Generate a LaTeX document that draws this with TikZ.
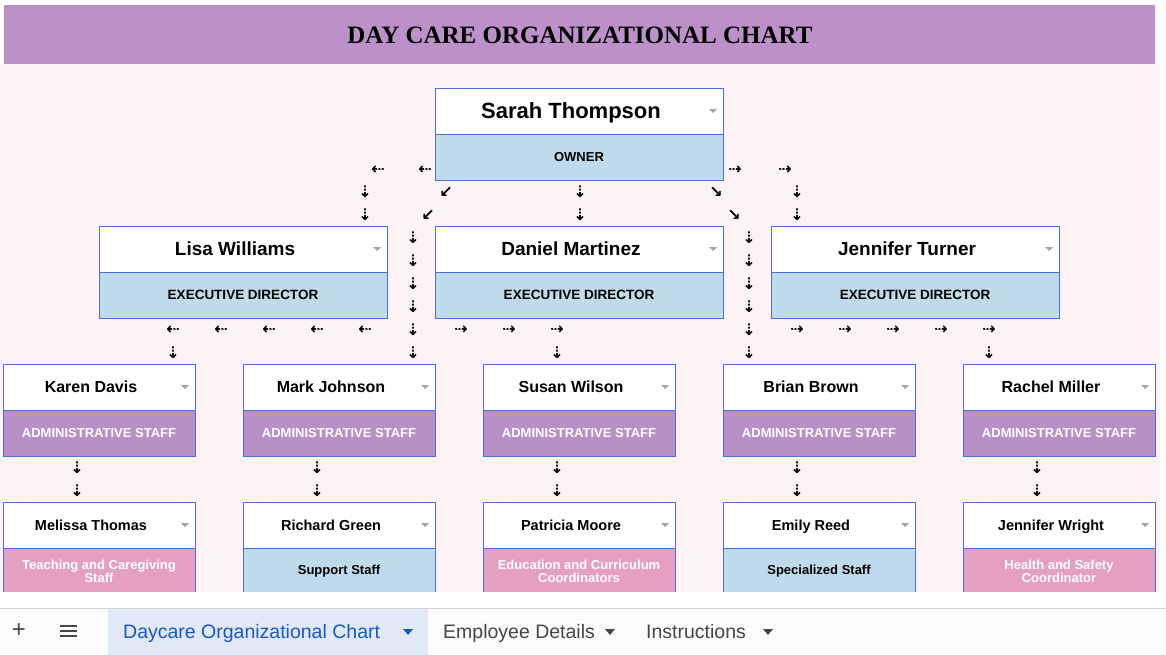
\documentclass[tikz,border=0pt]{standalone}
\usepackage{fontspec}
\setmainfont{Liberation Sans}
\newfontfamily\titlefont{Liberation Serif}
\newfontfamily\symfont{DejaVu Sans}
\definecolor{bg}{HTML}{FDF2F4}
\definecolor{titlebg}{HTML}{BC90C8}
\definecolor{rblue}{HTML}{BFDAEA}
\definecolor{rpurple}{HTML}{B98FC7}
\definecolor{rpink}{HTML}{E6A0BF}
\definecolor{edge}{HTML}{4A6FD8}
\definecolor{tabbg}{HTML}{E1E9F7}
\definecolor{tabtxt}{HTML}{1A57C7}
\definecolor{gtxt}{HTML}{444746}
\tikzset{x=1pt,y=-1pt,
 cell/.style={draw=edge,line width=0.8pt},
 namet/.style={font=\bfseries\fontsize{#1}{#1}\selectfont,text=black,anchor=base,inner sep=0pt},
 arr/.style={font=\symfont\bfseries\fontsize{16}{16}\selectfont,inner sep=0pt},
 tabt/.style={font=\fontsize{19.5}{19.5}\selectfont,anchor=base west,inner sep=0pt},
}
\newcommand{\person}[7]{% id, x1, x2, y, h, name, size
 \fill[white] (#2,#4) rectangle (#3,#4+#5);
 \draw[cell] (#2,#4) rectangle (#3,#4+#5);
 \node[namet=#7] (#1n) at ({(#2+#3)/2-8},{#4+#5/2+0.36*#7}) {#6};
 \fill[gray!70] (#3-14,#4+#5/2-2) -- (#3-6,#4+#5/2-2) -- (#3-10,#4+#5/2+2) -- cycle;
}
\newcommand{\role}[9]{% id,x1,x2,y,h,fill,textcolor,size,text
 \fill[#6] (#2,#4) rectangle (#3,#4+#5);
 \draw[cell] (#2,#4) rectangle (#3,#4+#5);
 \node[font=\bfseries\fontsize{#8}{#8}\selectfont,text=#7,align=center,inner sep=0pt] (#1r) at ({(#2+#3)/2},#4+#5/2) {#9};
}
\begin{document}
\begin{tikzpicture}
\useasboundingbox (0,0) rectangle (1166,655);
\fill[white] (0,0) rectangle (1166,655);
\fill[bg] (0,64) rectangle (1160,592);
\fill[titlebg] (4,5) rectangle (1155,64);
\node[font=\titlefont\bfseries\fontsize{25}{25}\selectfont] (title) at (580,35) {DAY CARE ORGANIZATIONAL CHART};
% owner
\person{own}{435}{723}{88}{46}{Sarah Thompson}{22}
\role{own}{435}{723}{134}{46}{rblue}{black}{13}{OWNER}
% execs
\person{lw}{99}{387}{226}{46}{Lisa Williams}{19}
\role{lw}{99}{387}{272}{46}{rblue}{black}{13.5}{EXECUTIVE DIRECTOR}
\person{dm}{435}{723}{226}{46}{Daniel Martinez}{19}
\role{dm}{435}{723}{272}{46}{rblue}{black}{13.5}{EXECUTIVE DIRECTOR}
\person{jt}{771}{1059}{226}{46}{Jennifer Turner}{19}
\role{jt}{771}{1059}{272}{46}{rblue}{black}{13.5}{EXECUTIVE DIRECTOR}
% admin
\person{kd}{3}{195}{364}{46}{Karen Davis}{16}
\role{kd}{3}{195}{410}{46}{rpurple}{white}{13}{ADMINISTRATIVE STAFF}
\person{mj}{243}{435}{364}{46}{Mark Johnson}{16}
\role{mj}{243}{435}{410}{46}{rpurple}{white}{13}{ADMINISTRATIVE STAFF}
\person{sw}{483}{675}{364}{46}{Susan Wilson}{16}
\role{sw}{483}{675}{410}{46}{rpurple}{white}{13}{ADMINISTRATIVE STAFF}
\person{bb}{723}{915}{364}{46}{Brian Brown}{16}
\role{bb}{723}{915}{410}{46}{rpurple}{white}{13}{ADMINISTRATIVE STAFF}
\person{rm}{963}{1155}{364}{46}{Rachel Miller}{16}
\role{rm}{963}{1155}{410}{46}{rpurple}{white}{13}{ADMINISTRATIVE STAFF}
% bottom
\begin{scope}
\clip (0,0) rectangle (1166,592);
\person{mt}{3}{195}{502}{46}{Melissa Thomas}{14.5}
\role{mt}{3}{195}{548}{46}{rpink}{white}{13}{Teaching and Caregiving\\Staff}
\person{rg}{243}{435}{502}{46}{Richard Green}{14.5}
\role{rg}{243}{435}{548}{46}{rblue}{black}{13}{Support Staff}
\person{pm}{483}{675}{502}{46}{Patricia Moore}{14.5}
\role{pm}{483}{675}{548}{46}{rpink}{white}{13}{Education and Curriculum\\Coordinators}
\person{er}{723}{915}{502}{46}{Emily Reed}{14.5}
\role{er}{723}{915}{548}{46}{rblue}{black}{13}{Specialized Staff}
\person{jw}{963}{1155}{502}{46}{Jennifer Wright}{14.5}
\role{jw}{963}{1155}{548}{46}{rpink}{white}{13}{Health and Safety\\Coordinator}
\end{scope}
% arrow glyphs
\foreach \x in {378,425}{\node[arr] at (\x,170) {⇠};}
\foreach \x in {735,785}{\node[arr] at (\x,170) {⇢};}
\foreach \y in {192,215}{
 \node[arr] at (365,\y) {⇣}; \node[arr] at (580,\y) {⇣}; \node[arr] at (797,\y) {⇣};}
\node[arr] at (446,192) {↙}; \node[arr] at (428,215) {↙};
\node[arr] at (716,192) {↘}; \node[arr] at (734,215) {↘};
\foreach \y in {238,261,284,307,330,353}{\node[arr] at (413,\y) {⇣}; \node[arr] at (749,\y) {⇣};}
\foreach \x in {173,221,269,317,365}{\node[arr] at (\x,330) {⇠};}
\foreach \x in {461,509,557,797,845,893,941,989}{\node[arr] at (\x,330) {⇢};}
\foreach \x in {173,557,989}{\node[arr] at (\x,353) {⇣};}
\foreach \x in {77,317,557,797,1037}{\node[arr] at (\x,468) {⇣}; \node[arr] at (\x,491) {⇣};}
% tab bar
\fill[white] (0,592) rectangle (1166,655);
\draw[gray!35] (0,608) -- (1166,608);
\fill[white!97!gray] (0,609) rectangle (1166,655);
\fill[tabbg] (108,609) rectangle (428,655);
\node[font=\fontsize{24}{24}\selectfont,text=gtxt] (plus) at (19,631) {+};
\foreach \dy in {-5,0,5}{\draw[gtxt,line width=1.6pt] (60,631+\dy) -- (77,631+\dy);}
\node[tabt,text=tabtxt] (t1) at (123,638) {Daycare Organizational Chart};
\fill[tabtxt] (403,629) -- (413,629) -- (408,635) -- cycle;
\node[tabt,text=gtxt] (t2) at (443,638) {Employee Details};
\fill[gtxt] (605,629) -- (615,629) -- (610,635) -- cycle;
\node[tabt,text=gtxt] (t3) at (646,638) {Instructions};
\fill[gtxt] (763,629) -- (773,629) -- (768,635) -- cycle;
\end{tikzpicture}
\end{document}
